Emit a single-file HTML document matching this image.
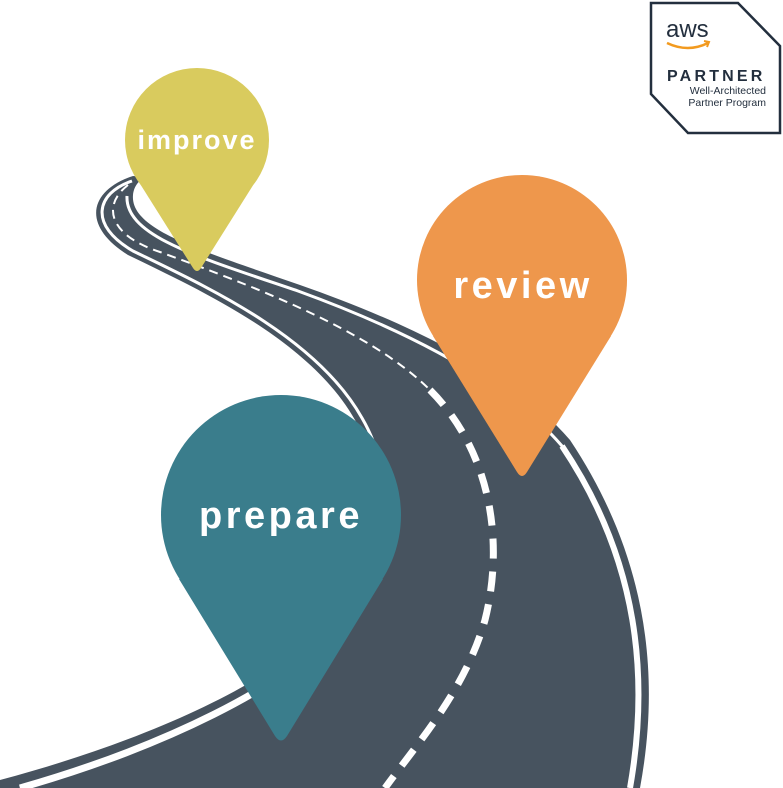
<!DOCTYPE html>
<html><head><style>
html,body{margin:0;padding:0;background:#fff;}
svg{display:block;}
</style></head><body>
<svg width="783" height="788" viewBox="0 0 783 788" xmlns="http://www.w3.org/2000/svg">
<!-- road -->
<path d="M133,176 C90,190 80,225 128,255 C200,290 310,340 355,420 C390,480 385,560 330,620 C280,680 150,740 0,780 L0,788 L640,788 C660,680 650,560 570,440 C510,370 400,320 300,285 C200,250 130,230 133,195 C134,185 140,180 145,177 Z" fill="#47535F"/>
<!-- edge lines -->
<path d="M132,181 C96,193 88,225 133,251 C205,286 316,336 362,418 C398,480 393,562 338,626 C290,686 160,748 20,788" fill="none" stroke="#fff" stroke-width="3"/>
<path d="M630,788 C649,680 640,562 562,446 C503,377 397,327 298,291 C198,257 125,236 127,196" fill="none" stroke="#fff" stroke-width="3"/>
<path d="M20,788 C160,748 290,686 338,626" fill="none" stroke="#fff" stroke-width="7"/>
<path d="M630,788 C649,680 640,562 562,446" fill="none" stroke="#fff" stroke-width="6"/>
<!-- center dashes -->
<path d="M128,185 C102,205 108,235 160,252 C250,285 370,330 430,390" fill="none" stroke="#fff" stroke-width="2" stroke-dasharray="9 6"/>
<path d="M430,390 C490,450 505,540 485,620 C465,690 420,740 385,788" fill="none" stroke="#fff" stroke-width="7" stroke-dasharray="20 13"/>
<!-- improve pin -->
<circle cx="197" cy="140" r="72" fill="#D9CB5E"/>
<path d="M137,179 L257,179 L201,268 Q197,274 193,268 Z" fill="#D9CB5E"/>
<!-- review pin -->
<circle cx="522" cy="280" r="105" fill="#EE974C"/>
<path d="M433,336 L611,336 L527,472 Q522,480 517,472 Z" fill="#EE974C"/>
<!-- prepare pin -->
<circle cx="281" cy="515" r="120" fill="#3A7D8C"/>
<path d="M179,579 L383,579 L287,736 Q281,745 275,736 Z" fill="#3A7D8C"/>
<g font-family="Liberation Sans, sans-serif" font-weight="bold" fill="#fff" text-anchor="middle">
<text x="197" y="149" font-size="27" letter-spacing="2">improve</text>
<text x="523" y="298" font-size="38" letter-spacing="3.5">review</text>
<text x="281" y="528" font-size="38" letter-spacing="3.5">prepare</text>
</g>
<!-- badge -->
<polygon points="651,3 738,3 780,46 780,133 688,133 651,94" fill="#fff" stroke="#232F3E" stroke-width="2.5"/>
<text x="666" y="37" font-family="Liberation Sans, sans-serif" font-size="24" fill="#232F3E">aws</text>
<path d="M667,43 Q688,53 708,43" fill="none" stroke="#F29A1F" stroke-width="2.5"/>
<path d="M704,41 L709,42 L707,47" fill="none" stroke="#F29A1F" stroke-width="2"/>
<text x="667" y="81" font-family="Liberation Sans, sans-serif" font-weight="bold" font-size="16" letter-spacing="3.2" fill="#232F3E">PARTNER</text>
<text x="766" y="94" text-anchor="end" font-family="Liberation Sans, sans-serif" font-size="10.5" fill="#232F3E">Well-Architected</text>
<text x="766" y="106" text-anchor="end" font-family="Liberation Sans, sans-serif" font-size="10.5" fill="#232F3E">Partner Program</text>
</svg>
</body></html>
